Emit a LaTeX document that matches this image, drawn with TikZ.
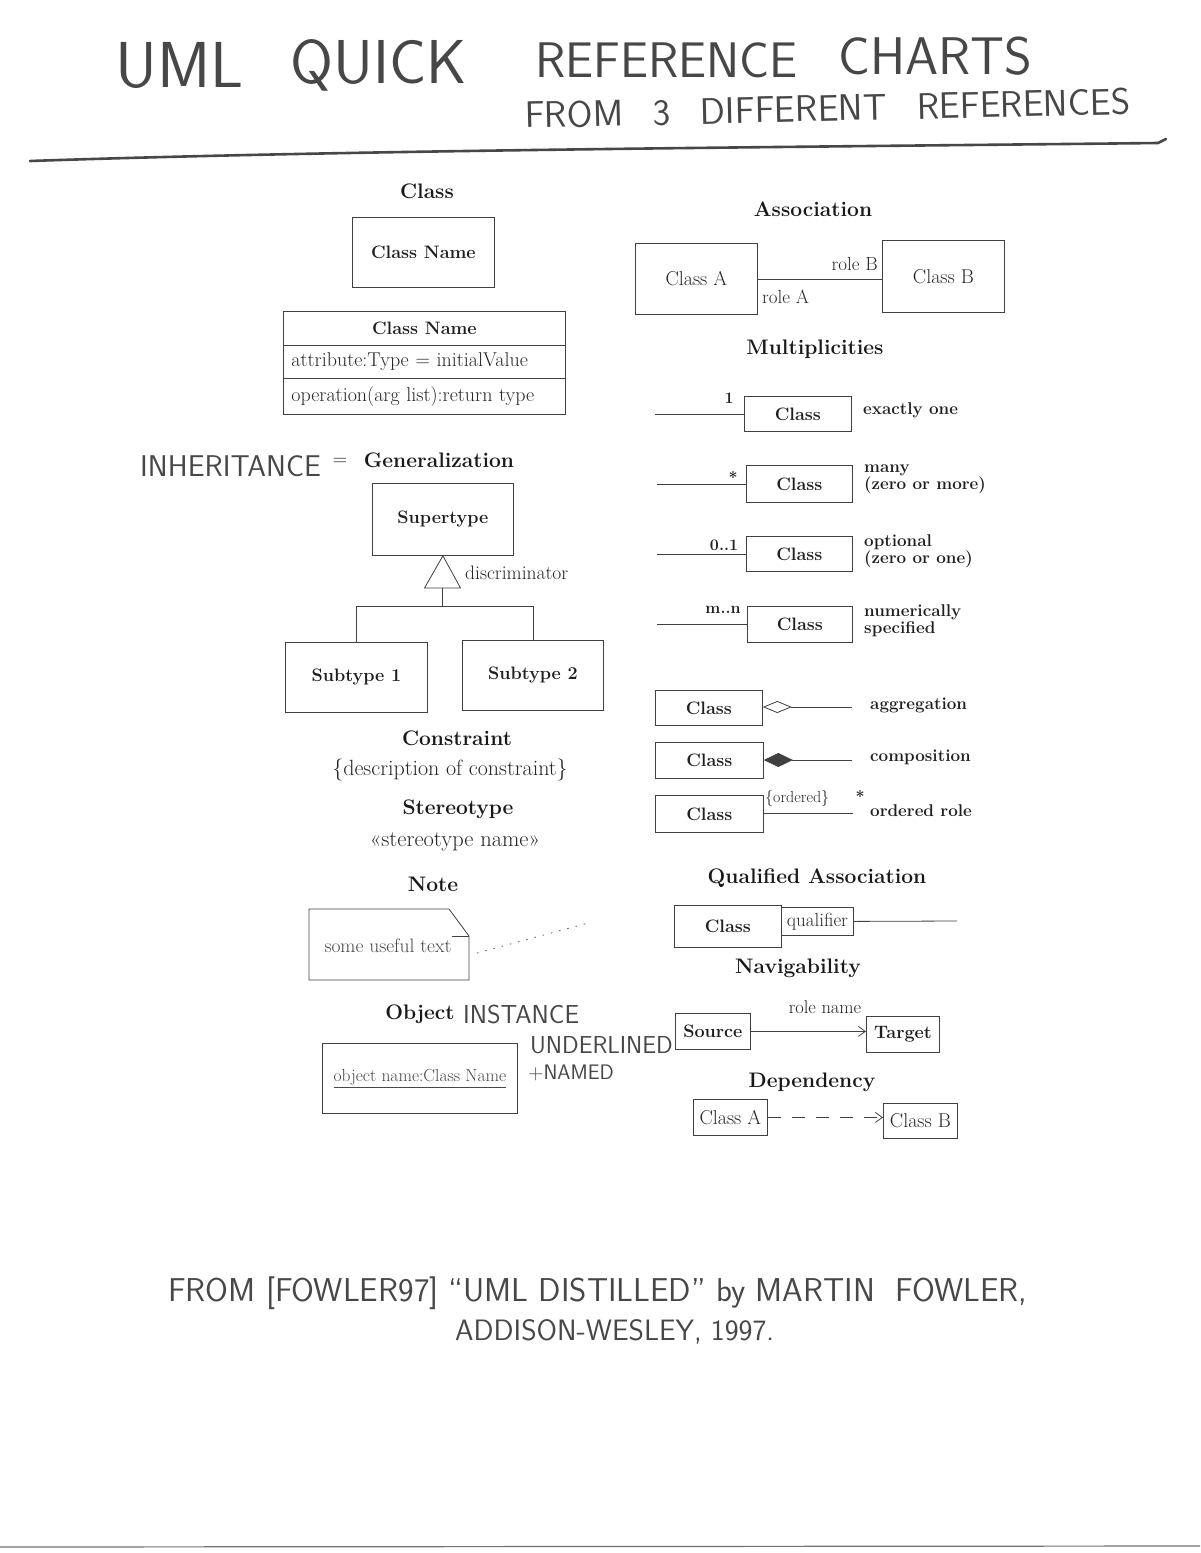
\documentclass[tikz,border=0pt]{standalone}
\usepackage{fontspec}
\usetikzlibrary{arrows.meta}
\tikzset{
  hand/.style={font=\sffamily, text=black!72, inner sep=0pt, anchor=base west},
  head/.style={font=\fontsize{21}{24}\selectfont\bfseries, inner sep=0pt, text=black!90},
  lblf/.style={font=\fontsize{18}{20}\selectfont\bfseries, text=black!88},
  txtf/.style={font=\fontsize{20}{22}\selectfont, text=black!85},
  txt/.style={txtf, inner sep=0pt},
  lbl/.style={lblf, inner sep=0pt},
  box/.style={draw=black!75, line width=0.8pt, inner sep=0pt, anchor=north west},
  lblbox/.style={box, lblf},
  txtbox/.style={box, txtf},
  conn/.style={draw=black!75, line width=0.8pt},
}
\begin{document}
\begin{tikzpicture}[x=1pt,y=-1pt]
\useasboundingbox (0,0) rectangle (1200,1553);
\fill[white] (0,0) rectangle (1200,1553);

% ---------- handwritten title ----------
\node[hand, font=\sffamily\fontsize{65}{66}\selectfont] (tUML) at (115,87) {UML};
\node[hand, font=\sffamily\fontsize{62}{64}\selectfont] (tQUICK) at (290,83) {QUICK};
\node[hand, font=\sffamily\fontsize{50}{52}\selectfont] (tREF) at (535,77) {REFERENCE};
\node[hand, font=\sffamily\fontsize{53}{54}\selectfont] (tCHARTS) at (838,74) {CHARTS};
\node[hand, font=\sffamily\fontsize{37}{38}\selectfont, rotate=1.3] (tSub) at (525,128)
  {FROM\hspace{30pt}3\hspace{30pt}DIFFERENT\hspace{30pt}REFERENCES};
\draw[black!72, line width=2.6pt, line cap=round]
  (30,161) .. controls (350,150) and (800,147) .. (1158,143) -- (1166,139);

% ---------- Class ----------
\node[head] (hClass) at (427,191) {Class};
\node[lblbox, minimum width=142pt, minimum height=70pt] (cn) at (352,217) {Class Name};
\node[lblbox, minimum width=282pt, minimum height=34pt] (cr1) at (283,311) {Class Name};
\node[txtbox, minimum width=282pt, minimum height=33pt, text width=266pt, align=left] (cr2) at (283,345)
  {attribute:Type = initialValue};
\node[txtbox, minimum width=282pt, minimum height=36pt, text width=266pt, align=left] (cr3) at (283,378)
  {operation(arg list):return type};

% ---------- Association ----------
\node[head] (hAssoc) at (813,209) {Association};
\node[txtbox, minimum width=122pt, minimum height=71pt] (ca) at (635,243) {Class A};
\node[txtbox, minimum width=122pt, minimum height=72pt] (cb) at (882,240) {Class B};
\draw[conn] (ca.east) -- (ca.east -| cb.west);
\node[txt, anchor=west, font=\fontsize{19}{21}\selectfont] (roleA) at (762,297) {role A};
\node[txt, anchor=east, font=\fontsize{19}{21}\selectfont] (roleB) at (878,264) {role B};

% ---------- Multiplicities ----------
\node[head] (hMult) at (815,349) {Multiplicities};
\node[lblbox, minimum width=107pt, minimum height=35pt] (m1) at (744,396) {Class};
\node[lblbox, minimum width=106pt, minimum height=37pt] (m2) at (746,465) {Class};
\node[lblbox, minimum width=106pt, minimum height=35pt] (m3) at (746,536) {Class};
\node[lblbox, minimum width=105pt, minimum height=36pt] (m4) at (747,606) {Class};
\coordinate (m1s) at (655,414);
\coordinate (m2s) at (657,484);
\coordinate (m3s) at (657,554);
\coordinate (m4s) at (657,624);
\draw[conn] (m1s) -- (m1s -| m1.west);
\draw[conn] (m2s) -- (m2s -| m2.west);
\draw[conn] (m3s) -- (m3s -| m3.west);
\draw[conn] (m4s) -- (m4s -| m4.west);
\node[lbl, font=\fontsize{16}{18}\selectfont\bfseries] (k1) at (729,398) {1};
\node[lbl, font=\fontsize{16}{18}\selectfont\bfseries] (k2) at (733,477) {*};
\node[lbl, font=\fontsize{16}{18}\selectfont\bfseries] (k3) at (724,545) {0..1};
\node[lbl, font=\fontsize{16}{18}\selectfont\bfseries] (k4) at (723,610) {m..n};
\node[lbl, anchor=west, font=\fontsize{17}{17}\selectfont\bfseries] (d1) at (863,410) {exactly one};
\node[lbl, anchor=west, align=left, font=\fontsize{17}{17}\selectfont\bfseries] (d2) at (864,479) {many\\(zero or more)};
\node[lbl, anchor=west, align=left, font=\fontsize{17}{17}\selectfont\bfseries] (d3) at (864,551) {optional\\(zero or one)};
\node[lbl, anchor=west, align=left, font=\fontsize{17}{17}\selectfont\bfseries] (d4) at (864,621) {numerically\\specified};

% ---------- Aggregation / composition / ordered ----------
\node[lblbox, minimum width=107pt, minimum height=35pt] (a1) at (655,690) {Class};
\node[lblbox, minimum width=108pt, minimum height=36pt] (a2) at (655,742) {Class};
\node[lblbox, minimum width=108pt, minimum height=37pt] (a3) at (655,795) {Class};
\coordinate (a1e) at (852,707);
\coordinate (a2e) at (852,760);
\coordinate (a3e) at (853,813);
\draw[conn, -{Diamond[open, length=29pt, width=12pt]}] (a1e) -- (a1e -| a1.east);
\draw[conn, -{Diamond[length=29pt, width=14pt]}] (a2e) -- (a2e -| a2.east);
\draw[conn] (a3e) -- (a3e -| a3.east);
\node[txt, anchor=west, font=\fontsize{16}{18}\selectfont] (ord) at (765,798) {\{ordered\}};
\node[lbl, font=\fontsize{16}{18}\selectfont\bfseries] (ordstar) at (860,796) {*};
\node[lbl, anchor=west, font=\fontsize{17}{19}\selectfont\bfseries] (e1) at (870,705) {aggregation};
\node[lbl, anchor=west, font=\fontsize{17}{19}\selectfont\bfseries] (e2) at (870,757) {composition};
\node[lbl, anchor=west, font=\fontsize{17}{19}\selectfont\bfseries] (e3) at (870,811) {ordered role};

% ---------- Generalization ----------
\node[hand, font=\sffamily\fontsize{30}{32}\selectfont] (inh) at (140,476) {INHERITANCE};
\node[txt, font=\fontsize{20}{22}\selectfont] (eq) at (340,462) {=};
\node[head] (hGen) at (439,460) {Generalization};
\node[lblbox, minimum width=141pt, minimum height=72pt] (sup) at (372,483) {Supertype};
\node[lblbox, minimum width=142pt, minimum height=70pt] (sub1) at (285,642) {Subtype 1};
\node[lblbox, minimum width=141pt, minimum height=70pt] (sub2) at (462,640) {Subtype 2};
\coordinate (tb) at (442.5,588);
\coordinate (jn) at (442.5,606);
\draw[conn, line join=miter] (sup.south) -- ([xshift=-18pt]tb) -- ([xshift=18pt]tb) -- cycle;
\draw[conn] (tb) -- (jn);
\draw[conn] (sub1.north) -- (sub1.north |- jn) -- (sub2.north |- jn) -- (sub2.north);
\node[txt, anchor=west, font=\fontsize{19.5}{21}\selectfont] (disc) at (465,573) {discriminator};

% ---------- Constraint / Stereotype ----------
\node[head] (hCons) at (457,738) {Constraint};
\node[txt, font=\fontsize{22}{24}\selectfont] (cons) at (450,770) {\{description of constraint\}};
\node[head] (hStereo) at (458,809) {Stereotype};
\node[txt, font=\fontsize{22.5}{24}\selectfont] (stereo) at (455,842) {«stereotype name»};

% ---------- Note ----------
\node[head] (hNote) at (433,884) {Note};
\draw[conn] (309,909) -- (449,909) -- (469,936) -- (469,980) -- (309,980) -- cycle;
\draw[conn] (452,936) -- (469,936);
\node[txt, font=\fontsize{19.5}{21}\selectfont, text=black!72] (note) at (388,946) {some useful text};
\coordinate (nd1) at (477,953);
\coordinate (nd2) at (592,922);
\draw[black!60, line width=0.9pt, dash pattern=on 1.5pt off 7pt] (nd1) -- (nd2);

% ---------- Object ----------
\node[head] (hObj) at (420,1014) {Object};
\node[hand, font=\sffamily\fontsize{26}{27}\selectfont] (inst) at (463,1023) {INSTANCE};
\node[txtbox, minimum width=195pt, minimum height=70pt, font=\fontsize{17.5}{19}\selectfont, text=black!72] (obj) at (322,1043)
  {\underline{object name:Class Name}};
\node[hand, font=\sffamily\fontsize{24.5}{26}\selectfont] (und) at (530,1053) {UNDERLINED};
\node[hand, font=\sffamily\fontsize{21}{24}\selectfont] (nam) at (528,1079) {+NAMED};

% ---------- Qualified association ----------
\node[head] (hQual) at (817,878) {Qualified Association};
\node[lblbox, minimum width=107pt, minimum height=42pt] (qc) at (674,905) {Class};
\node[txtbox, minimum width=72pt, minimum height=28pt, font=\fontsize{19}{20}\selectfont] (qq) at (781,907) {qualifier};
\coordinate (qe) at (957,921);
\draw[conn] (qq.east) -- (qe);

% ---------- Navigability ----------
\node[head] (hNav) at (798,968) {Navigability};
\node[lblbox, minimum width=75pt, minimum height=36pt] (src) at (675,1013) {Source};
\node[lblbox, minimum width=73pt, minimum height=36pt] (tgt) at (866,1016) {Target};
\draw[conn, -{Straight Barb[length=7pt, width=10pt]}] (src.east) -- (src.east -| tgt.west);
\node[txt, font=\fontsize{18.5}{20}\selectfont] (rname) at (825,1007) {role name};

% ---------- Dependency ----------
\node[head] (hDep) at (812,1082) {Dependency};
\node[txtbox, minimum width=74pt, minimum height=36pt, font=\fontsize{20}{22}\selectfont] (da) at (693,1099) {Class A};
\node[txtbox, minimum width=74pt, minimum height=35pt, font=\fontsize{20}{22}\selectfont] (db) at (883,1103) {Class B};
\draw[conn, dash pattern=on 13pt off 11pt, -{Straight Barb[length=7pt, width=10pt]}] (da.east) -- (da.east -| db.west);

% ---------- handwritten footer ----------
\node[hand, font=\sffamily\fontsize{33}{34}\selectfont] (f1) at (168,1301)
  {FROM [FOWLER97] ``UML DISTILLED'' by MARTIN\hspace{20pt}FOWLER,};
\node[hand, font=\sffamily\fontsize{29.5}{31}\selectfont] (f2) at (455,1340) {ADDISON-WESLEY, 1997.};

\draw[black!55, line width=1.2pt] (0,1547) -- (1200,1546);
\end{tikzpicture}
\end{document}
